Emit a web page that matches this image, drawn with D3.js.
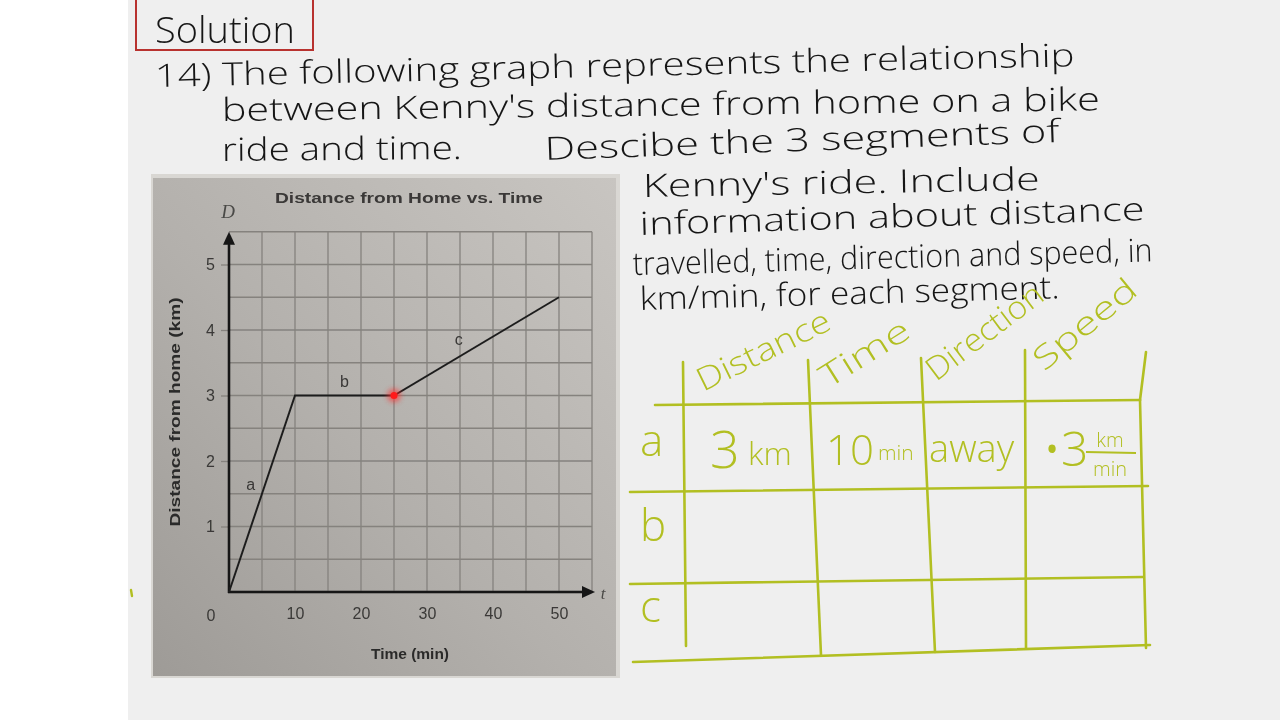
<!DOCTYPE html>
<html>
<head>
<meta charset="utf-8">
<script src="https://cdn.jsdelivr.net/npm/d3@7"></script>
<style>
  body { margin: 0; background: #fff; }
  svg { display: block; }
</style>
</head>
<body>
<svg id="page"></svg>
<script>
const width = 1280;
const height = 720;

// graph data (Distance from Home vs. Time)
const times = [0, 10, 25, 50];
const distances = [0, 3, 3, 4.5];
const segmentNames = ["a", "b", "c"];
const segmentLabelTimes = [3.3, 17.5, 34.8];
const segmentLabelDistances = [1.65, 3.22, 3.85];
const xTicks = [10, 20, 30, 40, 50];
const yTicks = [1, 2, 3, 4, 5];
const markedTime = 25;
const markedDistance = 3;

// handwritten question
const questionLines = [
  "14) The following graph represents the relationship",
  "between Kenny's distance from home on a bike",
  "ride and time.",
  "Descibe the 3 segments of",
  "Kenny's ride. Include",
  "information about distance",
  "travelled, time, direction and speed, in",
  "km/min, for each segment."
];

// answer table
const tableColumns = ["Distance", "Time", "Direction", "Speed"];
const tableRows = ["a", "b", "c"];
const rowABig = ["3", "10", "away", "\u20223"];
const rowASmall = ["km", "min"];
const speedUnitTop = "km";
const speedUnitBottom = "min";

const ink = "#161616";
const green = "#b2bf22";

const svg = d3.select("#page").attr("width", width).attr("height", height);
const defs = svg.append("defs");

const grad = defs.append("linearGradient").attr("id", "photo")
  .attr("x1", "0").attr("y1", "1").attr("x2", "1").attr("y2", "0");
grad.append("stop").attr("offset", "0%").attr("stop-color", "#9e9b97");
grad.append("stop").attr("offset", "45%").attr("stop-color", "#b3b0ac");
grad.append("stop").attr("offset", "100%").attr("stop-color", "#c8c5c1");

defs.append("filter").attr("id", "soft")
  .append("feGaussianBlur").attr("stdDeviation", 0.45);
defs.append("filter").attr("id", "glow").attr("x", "-100%").attr("y", "-100%")
  .attr("width", "300%").attr("height", "300%")
  .append("feGaussianBlur").attr("stdDeviation", 2.5);

// page and whiteboard
svg.append("rect").attr("width", width).attr("height", height).attr("fill", "#ffffff");
svg.append("rect").attr("x", 128).attr("width", width - 128).attr("height", height)
  .attr("fill", "#efefef");

// ---------- the photographed graph ----------
svg.append("rect").attr("x", 151).attr("y", 174).attr("width", 469).attr("height", 504)
  .attr("fill", "#d9d7d3");
svg.append("rect").attr("x", 153).attr("y", 178).attr("width", 463).attr("height", 498)
  .attr("fill", "url(#photo)");

const photo = svg.append("g").attr("filter", "url(#soft)");

const x = d3.scaleLinear().domain([0, 50]).range([229, 559]);
const y = d3.scaleLinear().domain([0, 5]).range([592, 264.5]);

// grid every 5 min / 0.5 km
photo.append("g").selectAll("line")
  .data(d3.range(5, 56, 5))
  .join("line")
  .attr("x1", d => x(d)).attr("x2", d => x(d))
  .attr("y1", y(0)).attr("y2", y(5.5))
  .attr("stroke", "#85827e").attr("stroke-width", 1.3);

photo.append("g").selectAll("line")
  .data(d3.range(0.5, 5.51, 0.5))
  .join("line")
  .attr("x1", x(0)).attr("x2", x(55))
  .attr("y1", d => y(d)).attr("y2", d => y(d))
  .attr("stroke", "#85827e").attr("stroke-width", 1.3);

// axes ticks and labels
const yAxis = photo.append("g")
  .attr("transform", `translate(${x(0)},0)`)
  .call(d3.axisLeft(y).tickValues(yTicks).tickFormat(d3.format("d"))
    .tickSize(8).tickPadding(6));
yAxis.select(".domain").remove();
yAxis.selectAll(".tick line").attr("stroke", "#85827e").attr("stroke-width", 1.3);
yAxis.selectAll("text").attr("font-family", "Liberation Sans, Arial, sans-serif")
  .attr("font-size", 16).attr("fill", "#3a3937");

const xAxis = photo.append("g")
  .attr("transform", `translate(0,${y(0)})`)
  .call(d3.axisBottom(x).tickValues(xTicks).tickFormat(d3.format("d"))
    .tickSize(0).tickPadding(16));
xAxis.select(".domain").remove();
xAxis.selectAll("text").attr("font-family", "Liberation Sans, Arial, sans-serif")
  .attr("font-size", 16).attr("fill", "#3a3937");

photo.append("text")
  .attr("x", x(0) - 18).attr("y", y(0) + 29)
  .attr("text-anchor", "middle")
  .attr("font-family", "Liberation Sans, Arial, sans-serif")
  .attr("font-size", 16).attr("fill", "#3a3937")
  .text("0");

// axis arrows
photo.append("line")
  .attr("x1", x(0)).attr("x2", x(0)).attr("y1", y(0) + 1).attr("y2", y(5.5) + 8)
  .attr("stroke", ink).attr("stroke-width", 2.6);
photo.append("line")
  .attr("x1", x(0) - 1).attr("x2", x(55) - 6).attr("y1", y(0)).attr("y2", y(0))
  .attr("stroke", ink).attr("stroke-width", 2.6);
photo.append("path")
  .attr("d", `M${x(0)},${y(5.5)} l-6,13 l12,0 z`)
  .attr("fill", ink);
photo.append("path")
  .attr("d", `M${x(55) + 3},${y(0)} l-13,-6 l0,12 z`)
  .attr("fill", ink);

// titles
photo.append("text")
  .attr("x", 409).attr("y", 203)
  .attr("text-anchor", "middle")
  .attr("font-family", "Liberation Sans, Arial, sans-serif")
  .attr("font-weight", "bold").attr("font-size", 15.5).attr("fill", "#3a3937")
  .attr("textLength", 268).attr("lengthAdjust", "spacingAndGlyphs")
  .text("Distance from Home vs. Time");

photo.append("text")
  .attr("transform", "translate(180,412) rotate(-90)")
  .attr("text-anchor", "middle")
  .attr("font-family", "Liberation Sans, Arial, sans-serif")
  .attr("font-weight", "bold").attr("font-size", 14.5).attr("fill", "#2c2b2a")
  .attr("textLength", 229).attr("lengthAdjust", "spacingAndGlyphs")
  .text("Distance from home (km)");

photo.append("text")
  .attr("x", 410).attr("y", 659)
  .attr("text-anchor", "middle")
  .attr("font-family", "Liberation Sans, Arial, sans-serif")
  .attr("font-weight", "bold").attr("font-size", 15.5).attr("fill", "#2c2b2a")
  .text("Time (min)");

photo.append("text")
  .attr("x", 228).attr("y", 218)
  .attr("text-anchor", "middle")
  .attr("font-family", "Liberation Serif, Times New Roman, serif")
  .attr("font-style", "italic").attr("font-size", 19).attr("fill", "#4a4946")
  .text("D");

photo.append("text")
  .attr("x", 603).attr("y", 599)
  .attr("text-anchor", "middle")
  .attr("font-family", "Liberation Serif, Times New Roman, serif")
  .attr("font-style", "italic").attr("font-size", 17).attr("fill", "#4a4946")
  .text("t");

// distance-time line
const line = d3.line()
  .x((d, i) => x(times[i]))
  .y(d => y(d));
photo.append("path")
  .datum(distances)
  .attr("d", line)
  .attr("fill", "none")
  .attr("stroke", "#1f1f1f")
  .attr("stroke-width", 2)
  .attr("stroke-linejoin", "miter");

photo.append("g").selectAll("text")
  .data(segmentNames)
  .join("text")
  .attr("x", (d, i) => x(segmentLabelTimes[i]))
  .attr("y", (d, i) => y(segmentLabelDistances[i]))
  .attr("dy", "0.35em")
  .attr("text-anchor", "middle")
  .attr("font-family", "Liberation Sans, Arial, sans-serif")
  .attr("font-size", 16).attr("fill", "#3a3937")
  .text(d => d);

// red laser dot
svg.append("circle")
  .attr("cx", x(markedTime)).attr("cy", y(markedDistance)).attr("r", 7)
  .attr("fill", "#ff3030").attr("opacity", 0.6).attr("filter", "url(#glow)");
svg.append("circle")
  .attr("cx", x(markedTime)).attr("cy", y(markedDistance)).attr("r", 3.5)
  .attr("fill", "#ff1a1a");

// ---------- handwriting ----------
svg.append("rect")
  .attr("x", 136).attr("y", -3).attr("width", 177).attr("height", 53)
  .attr("fill", "none").attr("stroke", "#b8322f").attr("stroke-width", 2);

const hand = "Open Sans, Noto Sans, DejaVu Sans, sans-serif";

svg.append("text")
  .attr("x", 155).attr("y", 43)
  .attr("font-family", hand).attr("font-weight", 300)
  .attr("font-size", 36).attr("fill", ink)
  .attr("textLength", 140).attr("lengthAdjust", "spacingAndGlyphs")
  .text("Solution");

// where each line of the question sits: left x, baseline, width, tilt
const lineBoxes = [
  [155, 87, 920, -1.3],
  [222, 121, 878, -0.7],
  [222, 161, 240, -0.5],
  [545, 160, 515, -2.0],
  [643, 197, 397, -1.0],
  [640, 235, 505, -1.7],
  [633, 275, 520, -1.5],
  [640, 310, 420, -1.6]
];

svg.append("g").selectAll("text")
  .data(questionLines)
  .join("text")
  .attr("x", (d, i) => lineBoxes[i][0])
  .attr("y", (d, i) => lineBoxes[i][1])
  .attr("transform", (d, i) => `rotate(${lineBoxes[i][3]},${lineBoxes[i][0]},${lineBoxes[i][1]})`)
  .attr("textLength", (d, i) => lineBoxes[i][2])
  .attr("lengthAdjust", "spacingAndGlyphs")
  .attr("font-family", hand).attr("font-weight", 300)
  .attr("font-size", 32).attr("fill", ink)
  .text(d => d);

// ---------- table ----------
const table = svg.append("g")
  .attr("stroke", green).attr("stroke-width", 2.6)
  .attr("stroke-linecap", "round").attr("fill", "none");

// hand drawn rules: [x1, y1, x2, y2]
const rules = [
  [655, 405, 1140, 400],
  [630, 492, 1148, 486],
  [630, 584, 1143, 577],
  [633, 662, 1150, 645],
  [683, 362, 686, 646],
  [808, 360, 821, 655],
  [921, 358, 935, 652],
  [1025, 350, 1026, 648],
  [1146, 352, 1140, 400],
  [1140, 400, 1146, 648]
];
table.selectAll("line")
  .data(rules)
  .join("line")
  .attr("x1", d => d[0]).attr("y1", d => d[1])
  .attr("x2", d => d[2]).attr("y2", d => d[3]);

// rotated column headers: start x, start y, length, angle
const headerBoxes = [
  [703, 392, 145, -26],
  [828, 389, 100, -32],
  [936, 382, 138, -37],
  [1044, 372, 124, -39.5]
];
svg.append("g").selectAll("text")
  .data(tableColumns)
  .join("text")
  .attr("x", (d, i) => headerBoxes[i][0])
  .attr("y", (d, i) => headerBoxes[i][1])
  .attr("transform", (d, i) => `rotate(${headerBoxes[i][3]},${headerBoxes[i][0]},${headerBoxes[i][1]})`)
  .attr("textLength", (d, i) => headerBoxes[i][2])
  .attr("lengthAdjust", "spacingAndGlyphs")
  .attr("font-family", hand).attr("font-weight", 300)
  .attr("font-size", 32).attr("fill", green)
  .text(d => d);

const rowBaselines = [456, 541, 622];
svg.append("g").selectAll("text")
  .data(tableRows)
  .join("text")
  .attr("x", 640)
  .attr("y", (d, i) => rowBaselines[i])
  .attr("font-family", hand).attr("font-weight", 300)
  .attr("font-size", 44).attr("fill", green)
  .text(d => d);

// row a answers: big part and small unit part (x, baseline, font size)
const bigBoxes = [[710, 468, 52], [826, 465, 42], [929, 462, 38], [1043, 466, 48]];
const smallBoxes = [[748, 465, 32], [878, 460, 21]];

svg.append("g").selectAll("text")
  .data(rowABig)
  .join("text")
  .attr("x", (d, i) => bigBoxes[i][0])
  .attr("y", (d, i) => bigBoxes[i][1])
  .attr("font-size", (d, i) => bigBoxes[i][2])
  .attr("font-family", hand).attr("font-weight", 300)
  .attr("fill", green)
  .text(d => d);

svg.append("g").selectAll("text")
  .data(rowASmall)
  .join("text")
  .attr("x", (d, i) => smallBoxes[i][0])
  .attr("y", (d, i) => smallBoxes[i][1])
  .attr("font-size", (d, i) => smallBoxes[i][2])
  .attr("font-family", hand).attr("font-weight", 300)
  .attr("fill", green)
  .text(d => d);

// km over min for the speed cell
svg.append("text")
  .attr("x", 1110).attr("y", 447).attr("text-anchor", "middle")
  .attr("font-family", hand).attr("font-weight", 300)
  .attr("font-size", 20).attr("fill", green)
  .text(speedUnitTop);
svg.append("line")
  .attr("x1", 1086).attr("x2", 1136).attr("y1", 452).attr("y2", 453)
  .attr("stroke", green).attr("stroke-width", 2);
svg.append("text")
  .attr("x", 1110).attr("y", 476).attr("text-anchor", "middle")
  .attr("font-family", hand).attr("font-weight", 300)
  .attr("font-size", 20).attr("fill", green)
  .text(speedUnitBottom);

// stray marker tick on the left
svg.append("line")
  .attr("x1", 131).attr("y1", 590).attr("x2", 132).attr("y2", 596)
  .attr("stroke", green).attr("stroke-width", 2.4).attr("stroke-linecap", "round");
</script>
</body>
</html>
